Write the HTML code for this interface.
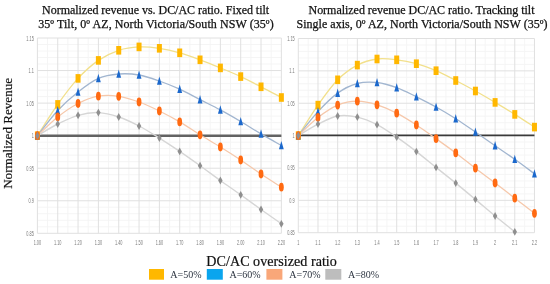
<!DOCTYPE html>
<html><head><meta charset="utf-8"><style>
html,body{margin:0;padding:0;background:#fff;}
body{width:550px;height:284px;overflow:hidden;position:relative;}
svg{position:absolute;left:0;top:0;filter:blur(0.3px);}
.t{font-family:"Liberation Serif",serif;font-size:12px;fill:#111;stroke:#111;stroke-width:0.25px;}
.yl{font-family:"Liberation Sans",sans-serif;font-size:7px;fill:#7a7a7a;}
.xl{font-family:"Liberation Sans",sans-serif;font-size:7px;fill:#7a7a7a;}
.ax{font-family:"Liberation Serif",serif;fill:#111;stroke:#111;stroke-width:0.2px;}
.lg{font-family:"Liberation Serif",serif;font-size:10px;fill:#2c3440;}
</style></head><body>
<svg width="550" height="284" viewBox="0 0 550 284">
<rect width="550" height="284" fill="#fff"/>
<line x1="37.40" y1="44.51" x2="281.36" y2="44.51" stroke="#f4f4f4" stroke-width="0.9"/>
<line x1="37.40" y1="51.02" x2="281.36" y2="51.02" stroke="#f4f4f4" stroke-width="0.9"/>
<line x1="37.40" y1="57.53" x2="281.36" y2="57.53" stroke="#f4f4f4" stroke-width="0.9"/>
<line x1="37.40" y1="64.04" x2="281.36" y2="64.04" stroke="#f4f4f4" stroke-width="0.9"/>
<line x1="37.40" y1="77.06" x2="281.36" y2="77.06" stroke="#f4f4f4" stroke-width="0.9"/>
<line x1="37.40" y1="83.57" x2="281.36" y2="83.57" stroke="#f4f4f4" stroke-width="0.9"/>
<line x1="37.40" y1="90.08" x2="281.36" y2="90.08" stroke="#f4f4f4" stroke-width="0.9"/>
<line x1="37.40" y1="96.59" x2="281.36" y2="96.59" stroke="#f4f4f4" stroke-width="0.9"/>
<line x1="37.40" y1="109.61" x2="281.36" y2="109.61" stroke="#f4f4f4" stroke-width="0.9"/>
<line x1="37.40" y1="116.12" x2="281.36" y2="116.12" stroke="#f4f4f4" stroke-width="0.9"/>
<line x1="37.40" y1="122.63" x2="281.36" y2="122.63" stroke="#f4f4f4" stroke-width="0.9"/>
<line x1="37.40" y1="129.14" x2="281.36" y2="129.14" stroke="#f4f4f4" stroke-width="0.9"/>
<line x1="37.40" y1="142.16" x2="281.36" y2="142.16" stroke="#f4f4f4" stroke-width="0.9"/>
<line x1="37.40" y1="148.67" x2="281.36" y2="148.67" stroke="#f4f4f4" stroke-width="0.9"/>
<line x1="37.40" y1="155.18" x2="281.36" y2="155.18" stroke="#f4f4f4" stroke-width="0.9"/>
<line x1="37.40" y1="161.69" x2="281.36" y2="161.69" stroke="#f4f4f4" stroke-width="0.9"/>
<line x1="37.40" y1="174.71" x2="281.36" y2="174.71" stroke="#f4f4f4" stroke-width="0.9"/>
<line x1="37.40" y1="181.22" x2="281.36" y2="181.22" stroke="#f4f4f4" stroke-width="0.9"/>
<line x1="37.40" y1="187.73" x2="281.36" y2="187.73" stroke="#f4f4f4" stroke-width="0.9"/>
<line x1="37.40" y1="194.24" x2="281.36" y2="194.24" stroke="#f4f4f4" stroke-width="0.9"/>
<line x1="37.40" y1="207.26" x2="281.36" y2="207.26" stroke="#f4f4f4" stroke-width="0.9"/>
<line x1="37.40" y1="213.77" x2="281.36" y2="213.77" stroke="#f4f4f4" stroke-width="0.9"/>
<line x1="37.40" y1="220.28" x2="281.36" y2="220.28" stroke="#f4f4f4" stroke-width="0.9"/>
<line x1="37.40" y1="226.79" x2="281.36" y2="226.79" stroke="#f4f4f4" stroke-width="0.9"/>
<line x1="47.56" y1="38.00" x2="47.56" y2="233.30" stroke="#f4f4f4" stroke-width="0.9"/>
<line x1="67.89" y1="38.00" x2="67.89" y2="233.30" stroke="#f4f4f4" stroke-width="0.9"/>
<line x1="88.22" y1="38.00" x2="88.22" y2="233.30" stroke="#f4f4f4" stroke-width="0.9"/>
<line x1="108.56" y1="38.00" x2="108.56" y2="233.30" stroke="#f4f4f4" stroke-width="0.9"/>
<line x1="128.88" y1="38.00" x2="128.88" y2="233.30" stroke="#f4f4f4" stroke-width="0.9"/>
<line x1="149.22" y1="38.00" x2="149.22" y2="233.30" stroke="#f4f4f4" stroke-width="0.9"/>
<line x1="169.54" y1="38.00" x2="169.54" y2="233.30" stroke="#f4f4f4" stroke-width="0.9"/>
<line x1="189.88" y1="38.00" x2="189.88" y2="233.30" stroke="#f4f4f4" stroke-width="0.9"/>
<line x1="210.20" y1="38.00" x2="210.20" y2="233.30" stroke="#f4f4f4" stroke-width="0.9"/>
<line x1="230.53" y1="38.00" x2="230.53" y2="233.30" stroke="#f4f4f4" stroke-width="0.9"/>
<line x1="250.86" y1="38.00" x2="250.86" y2="233.30" stroke="#f4f4f4" stroke-width="0.9"/>
<line x1="271.19" y1="38.00" x2="271.19" y2="233.30" stroke="#f4f4f4" stroke-width="0.9"/>
<line x1="37.40" y1="38.00" x2="281.36" y2="38.00" stroke="#e0e0e0" stroke-width="1"/>
<line x1="37.40" y1="70.55" x2="281.36" y2="70.55" stroke="#e0e0e0" stroke-width="1"/>
<line x1="37.40" y1="103.10" x2="281.36" y2="103.10" stroke="#e0e0e0" stroke-width="1"/>
<line x1="37.40" y1="135.65" x2="281.36" y2="135.65" stroke="#e0e0e0" stroke-width="1"/>
<line x1="37.40" y1="168.20" x2="281.36" y2="168.20" stroke="#e0e0e0" stroke-width="1"/>
<line x1="37.40" y1="200.75" x2="281.36" y2="200.75" stroke="#e0e0e0" stroke-width="1"/>
<line x1="37.40" y1="233.30" x2="281.36" y2="233.30" stroke="#e0e0e0" stroke-width="1"/>
<line x1="37.40" y1="38.00" x2="37.40" y2="233.30" stroke="#e0e0e0" stroke-width="1"/>
<line x1="57.73" y1="38.00" x2="57.73" y2="233.30" stroke="#e0e0e0" stroke-width="1"/>
<line x1="78.06" y1="38.00" x2="78.06" y2="233.30" stroke="#e0e0e0" stroke-width="1"/>
<line x1="98.39" y1="38.00" x2="98.39" y2="233.30" stroke="#e0e0e0" stroke-width="1"/>
<line x1="118.72" y1="38.00" x2="118.72" y2="233.30" stroke="#e0e0e0" stroke-width="1"/>
<line x1="139.05" y1="38.00" x2="139.05" y2="233.30" stroke="#e0e0e0" stroke-width="1"/>
<line x1="159.38" y1="38.00" x2="159.38" y2="233.30" stroke="#e0e0e0" stroke-width="1"/>
<line x1="179.71" y1="38.00" x2="179.71" y2="233.30" stroke="#e0e0e0" stroke-width="1"/>
<line x1="200.04" y1="38.00" x2="200.04" y2="233.30" stroke="#e0e0e0" stroke-width="1"/>
<line x1="220.37" y1="38.00" x2="220.37" y2="233.30" stroke="#e0e0e0" stroke-width="1"/>
<line x1="240.70" y1="38.00" x2="240.70" y2="233.30" stroke="#e0e0e0" stroke-width="1"/>
<line x1="261.03" y1="38.00" x2="261.03" y2="233.30" stroke="#e0e0e0" stroke-width="1"/>
<line x1="281.36" y1="38.00" x2="281.36" y2="233.30" stroke="#e0e0e0" stroke-width="1"/>
<text transform="translate(33.80,40.50) scale(0.55,1)" class="yl" text-anchor="end">1.15</text>
<text transform="translate(33.80,73.05) scale(0.55,1)" class="yl" text-anchor="end">1.1</text>
<text transform="translate(33.80,105.60) scale(0.55,1)" class="yl" text-anchor="end">1.05</text>
<text transform="translate(33.80,138.15) scale(0.55,1)" class="yl" text-anchor="end">1</text>
<text transform="translate(33.80,170.70) scale(0.55,1)" class="yl" text-anchor="end">0.95</text>
<text transform="translate(33.80,203.25) scale(0.55,1)" class="yl" text-anchor="end">0.9</text>
<text transform="translate(33.80,235.80) scale(0.55,1)" class="yl" text-anchor="end">0.85</text>
<text transform="translate(37.40,244.90) scale(0.55,1)" class="xl" text-anchor="middle">1.00</text>
<text transform="translate(57.73,244.90) scale(0.55,1)" class="xl" text-anchor="middle">1.10</text>
<text transform="translate(78.06,244.90) scale(0.55,1)" class="xl" text-anchor="middle">1.20</text>
<text transform="translate(98.39,244.90) scale(0.55,1)" class="xl" text-anchor="middle">1.30</text>
<text transform="translate(118.72,244.90) scale(0.55,1)" class="xl" text-anchor="middle">1.40</text>
<text transform="translate(139.05,244.90) scale(0.55,1)" class="xl" text-anchor="middle">1.50</text>
<text transform="translate(159.38,244.90) scale(0.55,1)" class="xl" text-anchor="middle">1.60</text>
<text transform="translate(179.71,244.90) scale(0.55,1)" class="xl" text-anchor="middle">1.70</text>
<text transform="translate(200.04,244.90) scale(0.55,1)" class="xl" text-anchor="middle">1.80</text>
<text transform="translate(220.37,244.90) scale(0.55,1)" class="xl" text-anchor="middle">1.90</text>
<text transform="translate(240.70,244.90) scale(0.55,1)" class="xl" text-anchor="middle">2.00</text>
<text transform="translate(261.03,244.90) scale(0.55,1)" class="xl" text-anchor="middle">2.10</text>
<text transform="translate(281.36,244.90) scale(0.55,1)" class="xl" text-anchor="middle">2.20</text>
<line x1="37.40" y1="135.80" x2="281.36" y2="135.80" stroke="#636363" stroke-width="2.4"/>
<clipPath id="c1"><rect x="31.4" y="32.0" width="255.95999999999995" height="201.3"/></clipPath>
<g clip-path="url(#c1)">
<path d="M37.40,135.70 C40.79,130.48 50.95,113.95 57.73,104.40 C64.51,94.85 71.28,85.73 78.06,78.40 C84.84,71.07 91.61,65.08 98.39,60.40 C105.17,55.72 111.94,52.55 118.72,50.30 C125.50,48.05 132.27,47.23 139.05,46.90 C145.83,46.57 152.60,47.32 159.38,48.30 C166.16,49.28 172.93,50.88 179.71,52.80 C186.49,54.72 193.26,57.28 200.04,59.80 C206.82,62.32 213.59,65.10 220.37,67.90 C227.15,70.70 233.92,73.45 240.70,76.60 C247.48,79.75 254.25,83.32 261.03,86.80 C267.81,90.28 277.97,95.72 281.36,97.50" fill="none" stroke="#f2e08c" stroke-width="1.3"/>
<path d="M37.40,135.70 C40.79,131.50 50.95,117.78 57.73,110.50 C64.51,103.22 71.28,97.35 78.06,92.00 C84.84,86.65 91.61,81.40 98.39,78.40 C105.17,75.40 111.94,74.57 118.72,74.00 C125.50,73.43 132.27,73.83 139.05,75.00 C145.83,76.17 152.60,78.63 159.38,81.00 C166.16,83.37 172.93,86.10 179.71,89.20 C186.49,92.30 193.26,96.15 200.04,99.60 C206.82,103.05 213.59,106.25 220.37,109.90 C227.15,113.55 233.92,117.50 240.70,121.50 C247.48,125.50 254.25,129.90 261.03,133.90 C267.81,137.90 277.97,143.57 281.36,145.50" fill="none" stroke="#a2b6d0" stroke-width="1.3"/>
<path d="M37.40,135.70 C40.79,132.58 50.95,122.37 57.73,117.00 C64.51,111.63 71.28,106.97 78.06,103.50 C84.84,100.03 91.61,97.40 98.39,96.20 C105.17,95.00 111.94,95.33 118.72,96.30 C125.50,97.27 132.27,99.55 139.05,102.00 C145.83,104.45 152.60,107.68 159.38,111.00 C166.16,114.32 172.93,117.93 179.71,121.90 C186.49,125.87 193.26,130.62 200.04,134.80 C206.82,138.98 213.59,142.80 220.37,147.00 C227.15,151.20 233.92,155.50 240.70,160.00 C247.48,164.50 254.25,169.47 261.03,174.00 C267.81,178.53 277.97,185.00 281.36,187.20" fill="none" stroke="#f6c8ab" stroke-width="1.3"/>
<path d="M37.40,135.70 C40.79,133.75 50.95,127.40 57.73,124.00 C64.51,120.60 71.28,117.20 78.06,115.30 C84.84,113.40 91.61,112.32 98.39,112.60 C105.17,112.88 111.94,114.77 118.72,117.00 C125.50,119.23 132.27,122.48 139.05,126.00 C145.83,129.52 152.60,133.87 159.38,138.10 C166.16,142.33 172.93,146.80 179.71,151.40 C186.49,156.00 193.26,160.85 200.04,165.70 C206.82,170.55 213.59,175.65 220.37,180.50 C227.15,185.35 233.92,189.97 240.70,194.80 C247.48,199.63 254.25,204.67 261.03,209.50 C267.81,214.33 277.97,221.42 281.36,223.80" fill="none" stroke="#d6d6d6" stroke-width="1.4"/>
</g>
<rect x="34.90" y="131.40" width="5" height="8.6" fill="#ffb700"/>
<rect x="55.23" y="100.10" width="5" height="8.6" fill="#ffb700"/>
<rect x="75.56" y="74.10" width="5" height="8.6" fill="#ffb700"/>
<rect x="95.89" y="56.10" width="5" height="8.6" fill="#ffb700"/>
<rect x="116.22" y="46.00" width="5" height="8.6" fill="#ffb700"/>
<rect x="136.55" y="42.60" width="5" height="8.6" fill="#ffb700"/>
<rect x="156.88" y="44.00" width="5" height="8.6" fill="#ffb700"/>
<rect x="177.21" y="48.50" width="5" height="8.6" fill="#ffb700"/>
<rect x="197.54" y="55.50" width="5" height="8.6" fill="#ffb700"/>
<rect x="217.87" y="63.60" width="5" height="8.6" fill="#ffb700"/>
<rect x="238.20" y="72.30" width="5" height="8.6" fill="#ffb700"/>
<rect x="258.53" y="82.50" width="5" height="8.6" fill="#ffb700"/>
<rect x="278.86" y="93.20" width="5" height="8.6" fill="#ffb700"/>
<path d="M37.40,131.10 L39.80,139.50 L35.00,139.50Z" fill="#1b68cc"/>
<path d="M57.73,105.90 L60.13,114.30 L55.33,114.30Z" fill="#1b68cc"/>
<path d="M78.06,87.40 L80.46,95.80 L75.66,95.80Z" fill="#1b68cc"/>
<path d="M98.39,73.80 L100.79,82.20 L95.99,82.20Z" fill="#1b68cc"/>
<path d="M118.72,69.40 L121.12,77.80 L116.32,77.80Z" fill="#1b68cc"/>
<path d="M139.05,70.40 L141.45,78.80 L136.65,78.80Z" fill="#1b68cc"/>
<path d="M159.38,76.40 L161.78,84.80 L156.98,84.80Z" fill="#1b68cc"/>
<path d="M179.71,84.60 L182.11,93.00 L177.31,93.00Z" fill="#1b68cc"/>
<path d="M200.04,95.00 L202.44,103.40 L197.64,103.40Z" fill="#1b68cc"/>
<path d="M220.37,105.30 L222.77,113.70 L217.97,113.70Z" fill="#1b68cc"/>
<path d="M240.70,116.90 L243.10,125.30 L238.30,125.30Z" fill="#1b68cc"/>
<path d="M261.03,129.30 L263.43,137.70 L258.63,137.70Z" fill="#1b68cc"/>
<path d="M281.36,140.90 L283.76,149.30 L278.96,149.30Z" fill="#1b68cc"/>
<ellipse cx="37.40" cy="135.70" rx="2.4" ry="4.4" fill="#ff6a12"/>
<ellipse cx="57.73" cy="117.00" rx="2.4" ry="4.4" fill="#ff6a12"/>
<ellipse cx="78.06" cy="103.50" rx="2.4" ry="4.4" fill="#ff6a12"/>
<ellipse cx="98.39" cy="96.20" rx="2.4" ry="4.4" fill="#ff6a12"/>
<ellipse cx="118.72" cy="96.30" rx="2.4" ry="4.4" fill="#ff6a12"/>
<ellipse cx="139.05" cy="102.00" rx="2.4" ry="4.4" fill="#ff6a12"/>
<ellipse cx="159.38" cy="111.00" rx="2.4" ry="4.4" fill="#ff6a12"/>
<ellipse cx="179.71" cy="121.90" rx="2.4" ry="4.4" fill="#ff6a12"/>
<ellipse cx="200.04" cy="134.80" rx="2.4" ry="4.4" fill="#ff6a12"/>
<ellipse cx="220.37" cy="147.00" rx="2.4" ry="4.4" fill="#ff6a12"/>
<ellipse cx="240.70" cy="160.00" rx="2.4" ry="4.4" fill="#ff6a12"/>
<ellipse cx="261.03" cy="174.00" rx="2.4" ry="4.4" fill="#ff6a12"/>
<ellipse cx="281.36" cy="187.20" rx="2.4" ry="4.4" fill="#ff6a12"/>
<path d="M37.40,131.80 L39.60,135.70 L37.40,139.60 L35.20,135.70Z" fill="#8f8f8f"/>
<path d="M57.73,120.10 L59.93,124.00 L57.73,127.90 L55.53,124.00Z" fill="#8f8f8f"/>
<path d="M78.06,111.40 L80.26,115.30 L78.06,119.20 L75.86,115.30Z" fill="#8f8f8f"/>
<path d="M98.39,108.70 L100.59,112.60 L98.39,116.50 L96.19,112.60Z" fill="#8f8f8f"/>
<path d="M118.72,113.10 L120.92,117.00 L118.72,120.90 L116.52,117.00Z" fill="#8f8f8f"/>
<path d="M139.05,122.10 L141.25,126.00 L139.05,129.90 L136.85,126.00Z" fill="#8f8f8f"/>
<path d="M159.38,134.20 L161.58,138.10 L159.38,142.00 L157.18,138.10Z" fill="#8f8f8f"/>
<path d="M179.71,147.50 L181.91,151.40 L179.71,155.30 L177.51,151.40Z" fill="#8f8f8f"/>
<path d="M200.04,161.80 L202.24,165.70 L200.04,169.60 L197.84,165.70Z" fill="#8f8f8f"/>
<path d="M220.37,176.60 L222.57,180.50 L220.37,184.40 L218.17,180.50Z" fill="#8f8f8f"/>
<path d="M240.70,190.90 L242.90,194.80 L240.70,198.70 L238.50,194.80Z" fill="#8f8f8f"/>
<path d="M261.03,205.60 L263.23,209.50 L261.03,213.40 L258.83,209.50Z" fill="#8f8f8f"/>
<path d="M281.36,219.90 L283.56,223.80 L281.36,227.70 L279.16,223.80Z" fill="#8f8f8f"/>
<line x1="298.30" y1="44.97" x2="534.46" y2="44.97" stroke="#f4f4f4" stroke-width="0.9"/>
<line x1="298.30" y1="51.45" x2="534.46" y2="51.45" stroke="#f4f4f4" stroke-width="0.9"/>
<line x1="298.30" y1="57.92" x2="534.46" y2="57.92" stroke="#f4f4f4" stroke-width="0.9"/>
<line x1="298.30" y1="64.39" x2="534.46" y2="64.39" stroke="#f4f4f4" stroke-width="0.9"/>
<line x1="298.30" y1="77.34" x2="534.46" y2="77.34" stroke="#f4f4f4" stroke-width="0.9"/>
<line x1="298.30" y1="83.81" x2="534.46" y2="83.81" stroke="#f4f4f4" stroke-width="0.9"/>
<line x1="298.30" y1="90.29" x2="534.46" y2="90.29" stroke="#f4f4f4" stroke-width="0.9"/>
<line x1="298.30" y1="96.76" x2="534.46" y2="96.76" stroke="#f4f4f4" stroke-width="0.9"/>
<line x1="298.30" y1="109.71" x2="534.46" y2="109.71" stroke="#f4f4f4" stroke-width="0.9"/>
<line x1="298.30" y1="116.18" x2="534.46" y2="116.18" stroke="#f4f4f4" stroke-width="0.9"/>
<line x1="298.30" y1="122.65" x2="534.46" y2="122.65" stroke="#f4f4f4" stroke-width="0.9"/>
<line x1="298.30" y1="129.13" x2="534.46" y2="129.13" stroke="#f4f4f4" stroke-width="0.9"/>
<line x1="298.30" y1="142.07" x2="534.46" y2="142.07" stroke="#f4f4f4" stroke-width="0.9"/>
<line x1="298.30" y1="148.55" x2="534.46" y2="148.55" stroke="#f4f4f4" stroke-width="0.9"/>
<line x1="298.30" y1="155.02" x2="534.46" y2="155.02" stroke="#f4f4f4" stroke-width="0.9"/>
<line x1="298.30" y1="161.49" x2="534.46" y2="161.49" stroke="#f4f4f4" stroke-width="0.9"/>
<line x1="298.30" y1="174.44" x2="534.46" y2="174.44" stroke="#f4f4f4" stroke-width="0.9"/>
<line x1="298.30" y1="180.91" x2="534.46" y2="180.91" stroke="#f4f4f4" stroke-width="0.9"/>
<line x1="298.30" y1="187.39" x2="534.46" y2="187.39" stroke="#f4f4f4" stroke-width="0.9"/>
<line x1="298.30" y1="193.86" x2="534.46" y2="193.86" stroke="#f4f4f4" stroke-width="0.9"/>
<line x1="298.30" y1="206.81" x2="534.46" y2="206.81" stroke="#f4f4f4" stroke-width="0.9"/>
<line x1="298.30" y1="213.28" x2="534.46" y2="213.28" stroke="#f4f4f4" stroke-width="0.9"/>
<line x1="298.30" y1="219.75" x2="534.46" y2="219.75" stroke="#f4f4f4" stroke-width="0.9"/>
<line x1="298.30" y1="226.23" x2="534.46" y2="226.23" stroke="#f4f4f4" stroke-width="0.9"/>
<line x1="308.14" y1="38.50" x2="308.14" y2="232.70" stroke="#f4f4f4" stroke-width="0.9"/>
<line x1="327.82" y1="38.50" x2="327.82" y2="232.70" stroke="#f4f4f4" stroke-width="0.9"/>
<line x1="347.50" y1="38.50" x2="347.50" y2="232.70" stroke="#f4f4f4" stroke-width="0.9"/>
<line x1="367.18" y1="38.50" x2="367.18" y2="232.70" stroke="#f4f4f4" stroke-width="0.9"/>
<line x1="386.86" y1="38.50" x2="386.86" y2="232.70" stroke="#f4f4f4" stroke-width="0.9"/>
<line x1="406.54" y1="38.50" x2="406.54" y2="232.70" stroke="#f4f4f4" stroke-width="0.9"/>
<line x1="426.22" y1="38.50" x2="426.22" y2="232.70" stroke="#f4f4f4" stroke-width="0.9"/>
<line x1="445.90" y1="38.50" x2="445.90" y2="232.70" stroke="#f4f4f4" stroke-width="0.9"/>
<line x1="465.58" y1="38.50" x2="465.58" y2="232.70" stroke="#f4f4f4" stroke-width="0.9"/>
<line x1="485.26" y1="38.50" x2="485.26" y2="232.70" stroke="#f4f4f4" stroke-width="0.9"/>
<line x1="504.94" y1="38.50" x2="504.94" y2="232.70" stroke="#f4f4f4" stroke-width="0.9"/>
<line x1="524.62" y1="38.50" x2="524.62" y2="232.70" stroke="#f4f4f4" stroke-width="0.9"/>
<line x1="298.30" y1="38.50" x2="534.46" y2="38.50" stroke="#e0e0e0" stroke-width="1"/>
<line x1="298.30" y1="70.87" x2="534.46" y2="70.87" stroke="#e0e0e0" stroke-width="1"/>
<line x1="298.30" y1="103.23" x2="534.46" y2="103.23" stroke="#e0e0e0" stroke-width="1"/>
<line x1="298.30" y1="135.60" x2="534.46" y2="135.60" stroke="#e0e0e0" stroke-width="1"/>
<line x1="298.30" y1="167.97" x2="534.46" y2="167.97" stroke="#e0e0e0" stroke-width="1"/>
<line x1="298.30" y1="200.33" x2="534.46" y2="200.33" stroke="#e0e0e0" stroke-width="1"/>
<line x1="298.30" y1="232.70" x2="534.46" y2="232.70" stroke="#e0e0e0" stroke-width="1"/>
<line x1="298.30" y1="38.50" x2="298.30" y2="232.70" stroke="#e0e0e0" stroke-width="1"/>
<line x1="317.98" y1="38.50" x2="317.98" y2="232.70" stroke="#e0e0e0" stroke-width="1"/>
<line x1="337.66" y1="38.50" x2="337.66" y2="232.70" stroke="#e0e0e0" stroke-width="1"/>
<line x1="357.34" y1="38.50" x2="357.34" y2="232.70" stroke="#e0e0e0" stroke-width="1"/>
<line x1="377.02" y1="38.50" x2="377.02" y2="232.70" stroke="#e0e0e0" stroke-width="1"/>
<line x1="396.70" y1="38.50" x2="396.70" y2="232.70" stroke="#e0e0e0" stroke-width="1"/>
<line x1="416.38" y1="38.50" x2="416.38" y2="232.70" stroke="#e0e0e0" stroke-width="1"/>
<line x1="436.06" y1="38.50" x2="436.06" y2="232.70" stroke="#e0e0e0" stroke-width="1"/>
<line x1="455.74" y1="38.50" x2="455.74" y2="232.70" stroke="#e0e0e0" stroke-width="1"/>
<line x1="475.42" y1="38.50" x2="475.42" y2="232.70" stroke="#e0e0e0" stroke-width="1"/>
<line x1="495.10" y1="38.50" x2="495.10" y2="232.70" stroke="#e0e0e0" stroke-width="1"/>
<line x1="514.78" y1="38.50" x2="514.78" y2="232.70" stroke="#e0e0e0" stroke-width="1"/>
<line x1="534.46" y1="38.50" x2="534.46" y2="232.70" stroke="#e0e0e0" stroke-width="1"/>
<text transform="translate(294.70,41.00) scale(0.55,1)" class="yl" text-anchor="end">1.15</text>
<text transform="translate(294.70,73.37) scale(0.55,1)" class="yl" text-anchor="end">1.1</text>
<text transform="translate(294.70,105.73) scale(0.55,1)" class="yl" text-anchor="end">1.05</text>
<text transform="translate(294.70,138.10) scale(0.55,1)" class="yl" text-anchor="end">1</text>
<text transform="translate(294.70,170.47) scale(0.55,1)" class="yl" text-anchor="end">0.95</text>
<text transform="translate(294.70,202.83) scale(0.55,1)" class="yl" text-anchor="end">0.9</text>
<text transform="translate(294.70,235.20) scale(0.55,1)" class="yl" text-anchor="end">0.85</text>
<text transform="translate(298.30,244.90) scale(0.55,1)" class="xl" text-anchor="middle">1</text>
<text transform="translate(317.98,244.90) scale(0.55,1)" class="xl" text-anchor="middle">1.1</text>
<text transform="translate(337.66,244.90) scale(0.55,1)" class="xl" text-anchor="middle">1.2</text>
<text transform="translate(357.34,244.90) scale(0.55,1)" class="xl" text-anchor="middle">1.3</text>
<text transform="translate(377.02,244.90) scale(0.55,1)" class="xl" text-anchor="middle">1.4</text>
<text transform="translate(396.70,244.90) scale(0.55,1)" class="xl" text-anchor="middle">1.5</text>
<text transform="translate(416.38,244.90) scale(0.55,1)" class="xl" text-anchor="middle">1.6</text>
<text transform="translate(436.06,244.90) scale(0.55,1)" class="xl" text-anchor="middle">1.7</text>
<text transform="translate(455.74,244.90) scale(0.55,1)" class="xl" text-anchor="middle">1.8</text>
<text transform="translate(475.42,244.90) scale(0.55,1)" class="xl" text-anchor="middle">1.9</text>
<text transform="translate(495.10,244.90) scale(0.55,1)" class="xl" text-anchor="middle">2</text>
<text transform="translate(514.78,244.90) scale(0.55,1)" class="xl" text-anchor="middle">2.1</text>
<text transform="translate(534.46,244.90) scale(0.55,1)" class="xl" text-anchor="middle">2.2</text>
<line x1="298.30" y1="135.40" x2="534.46" y2="135.40" stroke="#3a3a3a" stroke-width="1.8"/>
<clipPath id="c2"><rect x="292.3" y="32.5" width="248.16000000000003" height="200.2"/></clipPath>
<g clip-path="url(#c2)">
<path d="M298.30,135.60 C301.58,130.52 311.42,114.40 317.98,105.10 C324.54,95.80 331.10,86.47 337.66,79.80 C344.22,73.13 350.78,68.57 357.34,65.10 C363.90,61.63 370.46,59.88 377.02,59.00 C383.58,58.12 390.14,59.02 396.70,59.80 C403.26,60.58 409.82,61.88 416.38,63.70 C422.94,65.52 429.50,67.90 436.06,70.70 C442.62,73.50 449.18,77.12 455.74,80.50 C462.30,83.88 468.86,87.35 475.42,91.00 C481.98,94.65 488.54,98.50 495.10,102.40 C501.66,106.30 508.22,110.28 514.78,114.40 C521.34,118.52 531.18,124.98 534.46,127.10" fill="none" stroke="#f2e08c" stroke-width="1.3"/>
<path d="M298.30,135.60 C301.58,131.60 311.42,118.68 317.98,111.60 C324.54,104.52 331.10,97.78 337.66,93.10 C344.22,88.42 350.78,85.27 357.34,83.50 C363.90,81.73 370.46,81.82 377.02,82.50 C383.58,83.18 390.14,85.22 396.70,87.60 C403.26,89.98 409.82,93.57 416.38,96.80 C422.94,100.03 429.50,103.35 436.06,107.00 C442.62,110.65 449.18,114.53 455.74,118.70 C462.30,122.87 468.86,127.50 475.42,132.00 C481.98,136.50 488.54,141.15 495.10,145.70 C501.66,150.25 508.22,154.62 514.78,159.30 C521.34,163.98 531.18,171.38 534.46,173.80" fill="none" stroke="#a2b6d0" stroke-width="1.3"/>
<path d="M298.30,135.60 C301.58,132.58 311.42,122.58 317.98,117.50 C324.54,112.42 331.10,107.82 337.66,105.10 C344.22,102.38 350.78,101.25 357.34,101.20 C363.90,101.15 370.46,102.80 377.02,104.80 C383.58,106.80 390.14,109.83 396.70,113.20 C403.26,116.57 409.82,120.75 416.38,125.00 C422.94,129.25 429.50,134.05 436.06,138.70 C442.62,143.35 449.18,147.98 455.74,152.90 C462.30,157.82 468.86,163.18 475.42,168.20 C481.98,173.22 488.54,178.00 495.10,183.00 C501.66,188.00 508.22,193.15 514.78,198.20 C521.34,203.25 531.18,210.78 534.46,213.30" fill="none" stroke="#f6c8ab" stroke-width="1.3"/>
<path d="M298.30,135.60 C301.58,133.68 311.42,127.37 317.98,124.10 C324.54,120.83 331.10,117.17 337.66,116.00 C344.22,114.83 350.78,115.65 357.34,117.10 C363.90,118.55 370.46,121.35 377.02,124.70 C383.58,128.05 390.14,132.72 396.70,137.20 C403.26,141.68 409.82,146.57 416.38,151.60 C422.94,156.63 429.50,162.15 436.06,167.40 C442.62,172.65 449.18,177.77 455.74,183.10 C462.30,188.43 468.86,193.92 475.42,199.40 C481.98,204.88 488.54,210.60 495.10,216.00 C501.66,221.40 508.22,226.38 514.78,231.80 C521.34,237.22 531.18,245.72 534.46,248.50" fill="none" stroke="#d6d6d6" stroke-width="1.4"/>
</g>
<rect x="295.80" y="131.30" width="5" height="8.6" fill="#ffb700"/>
<rect x="315.48" y="100.80" width="5" height="8.6" fill="#ffb700"/>
<rect x="335.16" y="75.50" width="5" height="8.6" fill="#ffb700"/>
<rect x="354.84" y="60.80" width="5" height="8.6" fill="#ffb700"/>
<rect x="374.52" y="54.70" width="5" height="8.6" fill="#ffb700"/>
<rect x="394.20" y="55.50" width="5" height="8.6" fill="#ffb700"/>
<rect x="413.88" y="59.40" width="5" height="8.6" fill="#ffb700"/>
<rect x="433.56" y="66.40" width="5" height="8.6" fill="#ffb700"/>
<rect x="453.24" y="76.20" width="5" height="8.6" fill="#ffb700"/>
<rect x="472.92" y="86.70" width="5" height="8.6" fill="#ffb700"/>
<rect x="492.60" y="98.10" width="5" height="8.6" fill="#ffb700"/>
<rect x="512.28" y="110.10" width="5" height="8.6" fill="#ffb700"/>
<rect x="531.96" y="122.80" width="5" height="8.6" fill="#ffb700"/>
<path d="M298.30,131.00 L300.70,139.40 L295.90,139.40Z" fill="#1b68cc"/>
<path d="M317.98,107.00 L320.38,115.40 L315.58,115.40Z" fill="#1b68cc"/>
<path d="M337.66,88.50 L340.06,96.90 L335.26,96.90Z" fill="#1b68cc"/>
<path d="M357.34,78.90 L359.74,87.30 L354.94,87.30Z" fill="#1b68cc"/>
<path d="M377.02,77.90 L379.42,86.30 L374.62,86.30Z" fill="#1b68cc"/>
<path d="M396.70,83.00 L399.10,91.40 L394.30,91.40Z" fill="#1b68cc"/>
<path d="M416.38,92.20 L418.78,100.60 L413.98,100.60Z" fill="#1b68cc"/>
<path d="M436.06,102.40 L438.46,110.80 L433.66,110.80Z" fill="#1b68cc"/>
<path d="M455.74,114.10 L458.14,122.50 L453.34,122.50Z" fill="#1b68cc"/>
<path d="M475.42,127.40 L477.82,135.80 L473.02,135.80Z" fill="#1b68cc"/>
<path d="M495.10,141.10 L497.50,149.50 L492.70,149.50Z" fill="#1b68cc"/>
<path d="M514.78,154.70 L517.18,163.10 L512.38,163.10Z" fill="#1b68cc"/>
<path d="M534.46,169.20 L536.86,177.60 L532.06,177.60Z" fill="#1b68cc"/>
<ellipse cx="298.30" cy="135.60" rx="2.4" ry="4.4" fill="#ff6a12"/>
<ellipse cx="317.98" cy="117.50" rx="2.4" ry="4.4" fill="#ff6a12"/>
<ellipse cx="337.66" cy="105.10" rx="2.4" ry="4.4" fill="#ff6a12"/>
<ellipse cx="357.34" cy="101.20" rx="2.4" ry="4.4" fill="#ff6a12"/>
<ellipse cx="377.02" cy="104.80" rx="2.4" ry="4.4" fill="#ff6a12"/>
<ellipse cx="396.70" cy="113.20" rx="2.4" ry="4.4" fill="#ff6a12"/>
<ellipse cx="416.38" cy="125.00" rx="2.4" ry="4.4" fill="#ff6a12"/>
<ellipse cx="436.06" cy="138.70" rx="2.4" ry="4.4" fill="#ff6a12"/>
<ellipse cx="455.74" cy="152.90" rx="2.4" ry="4.4" fill="#ff6a12"/>
<ellipse cx="475.42" cy="168.20" rx="2.4" ry="4.4" fill="#ff6a12"/>
<ellipse cx="495.10" cy="183.00" rx="2.4" ry="4.4" fill="#ff6a12"/>
<ellipse cx="514.78" cy="198.20" rx="2.4" ry="4.4" fill="#ff6a12"/>
<ellipse cx="534.46" cy="213.30" rx="2.4" ry="4.4" fill="#ff6a12"/>
<path d="M298.30,131.70 L300.50,135.60 L298.30,139.50 L296.10,135.60Z" fill="#8f8f8f"/>
<path d="M317.98,120.20 L320.18,124.10 L317.98,128.00 L315.78,124.10Z" fill="#8f8f8f"/>
<path d="M337.66,112.10 L339.86,116.00 L337.66,119.90 L335.46,116.00Z" fill="#8f8f8f"/>
<path d="M357.34,113.20 L359.54,117.10 L357.34,121.00 L355.14,117.10Z" fill="#8f8f8f"/>
<path d="M377.02,120.80 L379.22,124.70 L377.02,128.60 L374.82,124.70Z" fill="#8f8f8f"/>
<path d="M396.70,133.30 L398.90,137.20 L396.70,141.10 L394.50,137.20Z" fill="#8f8f8f"/>
<path d="M416.38,147.70 L418.58,151.60 L416.38,155.50 L414.18,151.60Z" fill="#8f8f8f"/>
<path d="M436.06,163.50 L438.26,167.40 L436.06,171.30 L433.86,167.40Z" fill="#8f8f8f"/>
<path d="M455.74,179.20 L457.94,183.10 L455.74,187.00 L453.54,183.10Z" fill="#8f8f8f"/>
<path d="M475.42,195.50 L477.62,199.40 L475.42,203.30 L473.22,199.40Z" fill="#8f8f8f"/>
<path d="M495.10,212.10 L497.30,216.00 L495.10,219.90 L492.90,216.00Z" fill="#8f8f8f"/>
<path d="M514.78,227.90 L516.98,231.80 L514.78,235.70 L512.58,231.80Z" fill="#8f8f8f"/>
<text class="t" x="155.6" y="13.7" text-anchor="middle" textLength="227" lengthAdjust="spacing">Normalized revenue vs. DC/AC ratio. Fixed tilt</text>
<text class="t" x="155.9" y="27.6" text-anchor="middle" textLength="235.5" lengthAdjust="spacing">35º Tilt, 0º AZ, North Victoria/South NSW (35º)</text>
<text class="t" x="421.5" y="13.7" text-anchor="middle" textLength="226" lengthAdjust="spacing">Normalized revenue DC/AC ratio. Tracking tilt</text>
<text class="t" x="422" y="27.6" text-anchor="middle" textLength="251" lengthAdjust="spacing">Single axis, 0º AZ, North Victoria/South NSW (35º)</text>
<text class="ax" font-size="13.1" transform="translate(12.0,133.4) rotate(-90)" text-anchor="middle">Normalized Revenue</text>
<text class="ax" font-size="14.1" x="271.6" y="265.6" text-anchor="middle" textLength="130.5" lengthAdjust="spacing">DC/AC oversized ratio</text>
<rect x="149" y="269" width="15" height="10.7" fill="#ffb800"/>
<text class="lg" x="170.3" y="277.8">A=50%</text>
<rect x="206.8" y="269" width="16" height="10.7" fill="#0aa5ee"/>
<text class="lg" x="229.5" y="277.8">A=60%</text>
<rect x="266.4" y="269" width="16" height="10.7" fill="#f9a779"/>
<text class="lg" x="289.3" y="277.8">A=70%</text>
<rect x="325.3" y="269" width="16" height="10.7" fill="#bdbdbd"/>
<text class="lg" x="348" y="277.8">A=80%</text>
</svg>
</body></html>
